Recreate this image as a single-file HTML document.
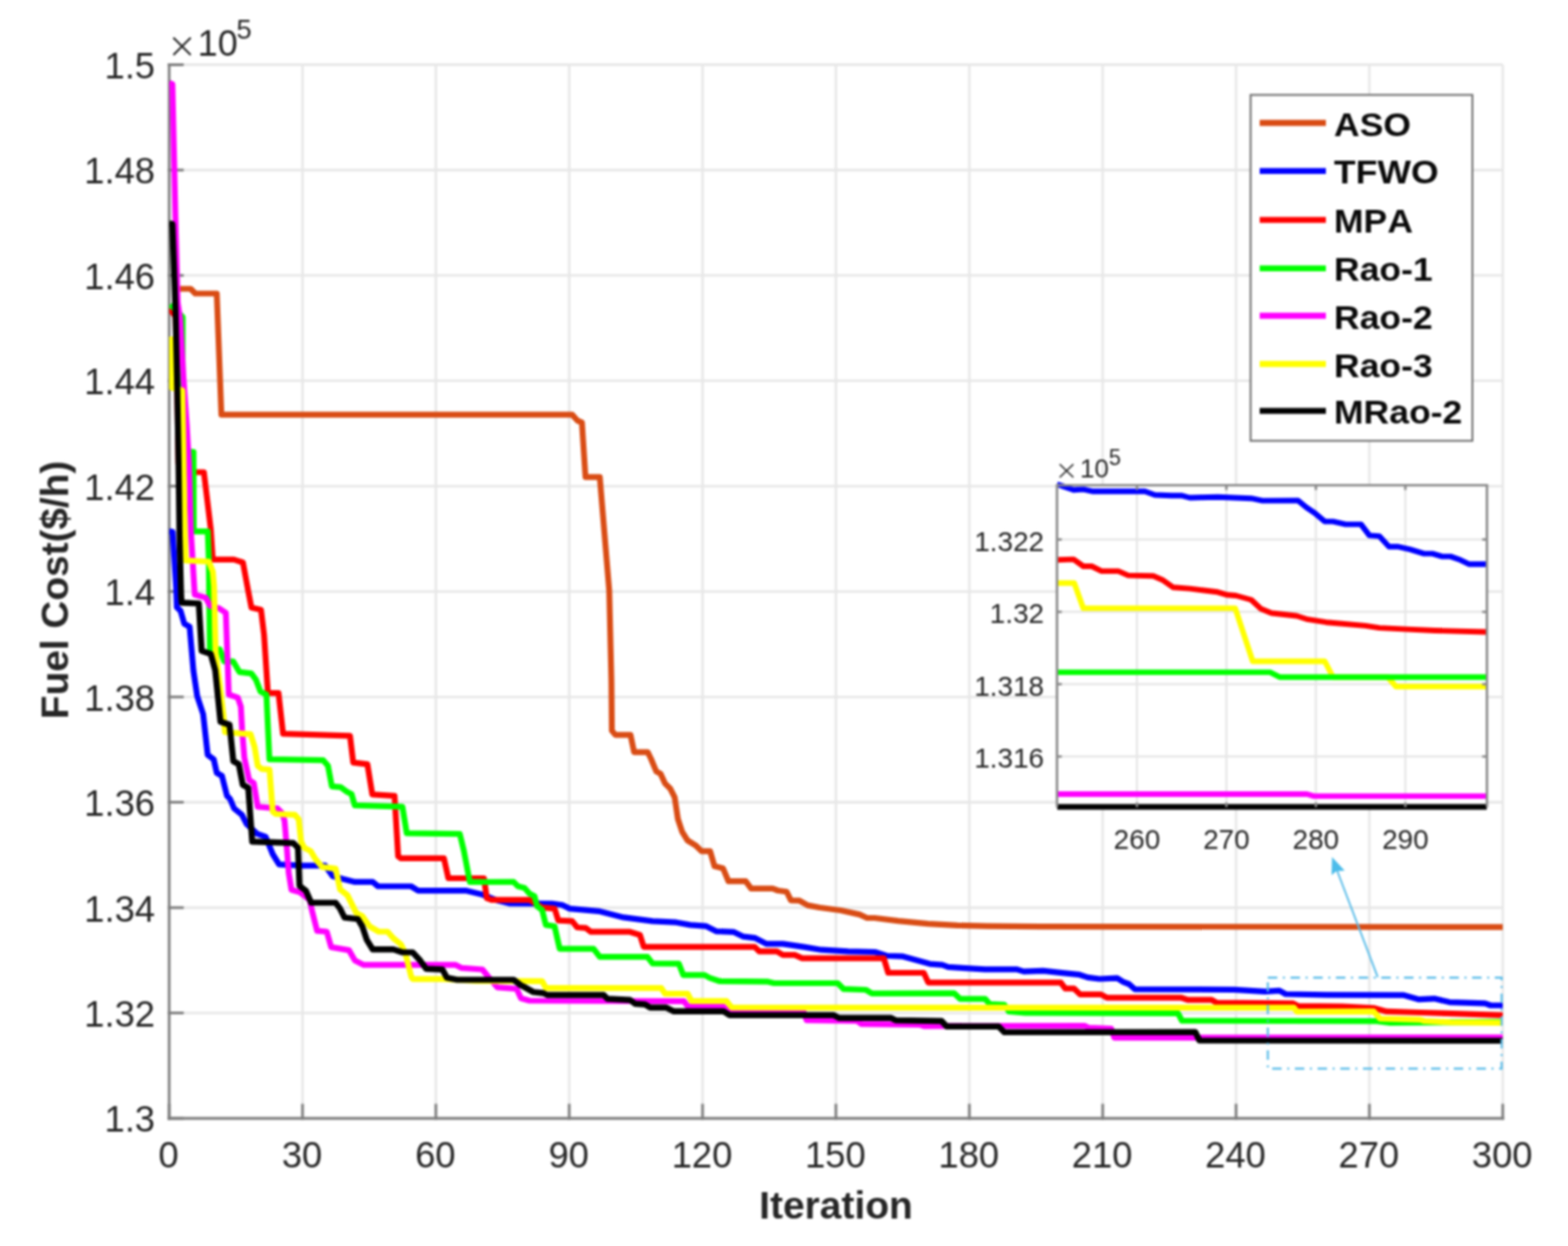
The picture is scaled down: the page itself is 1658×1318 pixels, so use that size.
<!DOCTYPE html><html><head><meta charset="utf-8"><title>Fuel Cost vs Iteration</title>
<style>html,body{margin:0;padding:0;background:#fff;}text{font-kerning:none;}svg{display:block;}#wrap{filter:blur(1px);width:1658px;height:1318px;}</style></head><body>
<div id="wrap">
<svg width="1658" height="1318" viewBox="0 0 1658 1318">
<rect x="0" y="0" width="1658" height="1318" fill="#ffffff"/>
<g stroke="#e7e7e7" stroke-width="2.6"><line x1="319.9" y1="68.4" x2="319.9" y2="1183.0"/><line x1="460.9" y1="68.4" x2="460.9" y2="1183.0"/><line x1="601.9" y1="68.4" x2="601.9" y2="1183.0"/><line x1="742.9" y1="68.4" x2="742.9" y2="1183.0"/><line x1="883.9" y1="68.4" x2="883.9" y2="1183.0"/><line x1="1025.0" y1="68.4" x2="1025.0" y2="1183.0"/><line x1="1166.0" y1="68.4" x2="1166.0" y2="1183.0"/><line x1="1307.0" y1="68.4" x2="1307.0" y2="1183.0"/><line x1="1448.0" y1="68.4" x2="1448.0" y2="1183.0"/><line x1="1589.0" y1="68.4" x2="1589.0" y2="1183.0"/><line x1="178.9" y1="1071.5" x2="1589.0" y2="1071.5"/><line x1="178.9" y1="960.1" x2="1589.0" y2="960.1"/><line x1="178.9" y1="848.6" x2="1589.0" y2="848.6"/><line x1="178.9" y1="737.2" x2="1589.0" y2="737.2"/><line x1="178.9" y1="625.7" x2="1589.0" y2="625.7"/><line x1="178.9" y1="514.2" x2="1589.0" y2="514.2"/><line x1="178.9" y1="402.8" x2="1589.0" y2="402.8"/><line x1="178.9" y1="291.3" x2="1589.0" y2="291.3"/><line x1="178.9" y1="179.9" x2="1589.0" y2="179.9"/><line x1="178.9" y1="68.4" x2="1589.0" y2="68.4"/></g>
<g stroke="#7d7d7d" stroke-width="2.8" stroke-linecap="square" stroke-linejoin="miter"><polyline points="191.9,68.4 178.9,68.4 178.9,1183.0" fill="none"/><line x1="178.9" y1="1183.0" x2="1589.0" y2="1183.0"/><line x1="178.9" y1="1183.0" x2="178.9" y2="1169.0"/><line x1="319.9" y1="1183.0" x2="319.9" y2="1169.0"/><line x1="460.9" y1="1183.0" x2="460.9" y2="1169.0"/><line x1="601.9" y1="1183.0" x2="601.9" y2="1169.0"/><line x1="742.9" y1="1183.0" x2="742.9" y2="1169.0"/><line x1="883.9" y1="1183.0" x2="883.9" y2="1169.0"/><line x1="1025.0" y1="1183.0" x2="1025.0" y2="1169.0"/><line x1="1166.0" y1="1183.0" x2="1166.0" y2="1169.0"/><line x1="1307.0" y1="1183.0" x2="1307.0" y2="1169.0"/><line x1="1448.0" y1="1183.0" x2="1448.0" y2="1169.0"/><line x1="1589.0" y1="1183.0" x2="1589.0" y2="1169.0"/><line x1="178.9" y1="1183.0" x2="192.9" y2="1183.0"/><line x1="178.9" y1="1071.5" x2="192.9" y2="1071.5"/><line x1="178.9" y1="960.1" x2="192.9" y2="960.1"/><line x1="178.9" y1="848.6" x2="192.9" y2="848.6"/><line x1="178.9" y1="737.2" x2="192.9" y2="737.2"/><line x1="178.9" y1="625.7" x2="192.9" y2="625.7"/><line x1="178.9" y1="514.2" x2="192.9" y2="514.2"/><line x1="178.9" y1="402.8" x2="192.9" y2="402.8"/><line x1="178.9" y1="291.3" x2="192.9" y2="291.3"/><line x1="178.9" y1="179.9" x2="192.9" y2="179.9"/><line x1="178.9" y1="68.4" x2="192.9" y2="68.4"/></g>
<g font-family='"Liberation Sans", Arial, sans-serif' font-size="38.5" fill="#262626"><text x="178.3" y="1234.9" text-anchor="middle">0</text><text x="319.3" y="1234.9" text-anchor="middle">30</text><text x="460.3" y="1234.9" text-anchor="middle">60</text><text x="601.3" y="1234.9" text-anchor="middle">90</text><text x="742.3" y="1234.9" text-anchor="middle">120</text><text x="883.3" y="1234.9" text-anchor="middle">150</text><text x="1024.4" y="1234.9" text-anchor="middle">180</text><text x="1165.4" y="1234.9" text-anchor="middle">210</text><text x="1306.4" y="1234.9" text-anchor="middle">240</text><text x="1447.4" y="1234.9" text-anchor="middle">270</text><text x="1588.4" y="1234.9" text-anchor="middle">300</text><text x="164" y="1197.4" text-anchor="end">1.3</text><text x="164" y="1085.9" text-anchor="end">1.32</text><text x="164" y="974.5" text-anchor="end">1.34</text><text x="164" y="863.0" text-anchor="end">1.36</text><text x="164" y="751.6" text-anchor="end">1.38</text><text x="164" y="640.1" text-anchor="end">1.4</text><text x="164" y="528.6" text-anchor="end">1.42</text><text x="164" y="417.2" text-anchor="end">1.44</text><text x="164" y="305.7" text-anchor="end">1.46</text><text x="164" y="194.3" text-anchor="end">1.48</text><text x="164" y="82.8" text-anchor="end">1.5</text></g>
<g font-family='"Liberation Sans", Arial, sans-serif' fill="#262626">
<g stroke="#262626" stroke-width="2.2" stroke-linecap="round"><line x1="184" y1="40.5" x2="201" y2="57.5"/><line x1="201" y1="40.5" x2="184" y2="57.5"/></g>
<text x="209" y="58.5" font-size="38">10</text>
<text x="250" y="40.8" font-size="29">5</text>
</g>
<text transform="translate(884,1289.3) scale(1.03,1)" x="0" y="0" text-anchor="middle" font-family='"Liberation Sans", Arial, sans-serif' font-weight="bold" font-size="40" fill="#262626">Iteration</text>
<text transform="translate(71.7,624) rotate(-90)" text-anchor="middle" font-family='"Liberation Sans", Arial, sans-serif' font-weight="bold" font-size="41" fill="#262626">Fuel Cost($/h)</text>
<defs><clipPath id="pc"><rect x="178.9" y="65.4" width="1413.1" height="1117.6"/></clipPath><clipPath id="ic"><rect x="1117.7" y="505" width="454.6" height="355"/></clipPath></defs>
<g clip-path="url(#pc)">
<polyline points="184.5,305.5 201.6,305.5 206.5,310.5 229.2,310.5 234.1,438.7 605.0,438.7 610.7,445.0 615.3,446.8 619.1,504.6 634.2,504.6 644.2,624.8 646.5,720.0 647.0,772.9 650.7,777.4 666.7,777.4 670.5,795.6 684.9,795.6 688.3,802.5 694.0,816.1 698.5,818.4 703.1,828.6 708.8,834.3 713.4,843.4 716.8,866.2 721.3,879.9 727.0,889.0 736.1,894.7 741.8,900.4 750.9,900.4 755.5,916.3 764.6,918.6 770.3,932.2 788.5,932.2 794.2,939.8 817.0,939.8 822.6,942.0 831.7,943.2 836.3,952.3 845.4,952.7 854.1,957.6 866.7,960.0 889.0,963.0 909.0,967.4 916.8,971.0 924.7,971.0 949.8,974.1 981.1,977.2 1012.5,978.8 1043.9,979.6 1100.0,980.1 1589.0,980.6" fill="none" stroke="#D94C14" stroke-width="6.2" stroke-linejoin="round" stroke-linecap="butt"/>
<polyline points="179.0,562.0 182.5,562.5 186.2,620.0 187.0,642.3 191.0,646.3 194.9,659.8 200.5,663.0 204.5,709.2 208.5,736.3 214.8,755.4 219.6,798.4 226.0,803.2 229.2,817.5 234.7,820.7 240.0,841.8 243.3,845.1 247.5,855.1 255.8,861.8 260.9,871.8 271.7,881.8 280.9,885.1 288.4,903.5 295.1,914.3 318.8,915.7 343.9,915.7 351.7,926.7 362.7,929.8 375.3,932.9 394.1,932.9 399.7,937.5 434.6,937.5 442.2,942.1 492.3,942.1 509.0,945.9 524.1,951.9 539.3,955.7 583.8,955.8 594.4,957.2 602.4,961.1 632.9,963.8 659.4,970.4 690.0,974.4 715.2,975.7 729.8,978.4 746.3,979.6 757.2,985.1 776.1,985.9 785.5,990.6 798.0,992.1 810.6,998.4 827.8,998.4 849.8,1001.6 868.6,1004.7 896.8,1006.3 925.0,1007.0 937.6,1011.0 954.8,1011.7 983.1,1019.6 996.3,1020.6 1002.5,1022.9 1041.7,1025.3 1074.7,1025.3 1082.5,1027.6 1102.9,1026.9 1123.3,1029.2 1140.5,1030.8 1150.0,1033.9 1162.5,1035.5 1181.3,1034.7 1187.6,1038.6 1193.9,1041.0 1200.1,1046.5 1305.1,1046.8 1337.7,1048.8 1352.9,1047.9 1359.4,1051.5 1402.9,1052.4 1484.5,1052.7 1500.5,1057.2 1516.6,1056.3 1532.6,1060.1 1570.4,1061.3 1576.2,1063.5 1589.0,1063.5" fill="none" stroke="#0000FF" stroke-width="6.2" stroke-linejoin="round" stroke-linecap="butt"/>
<polyline points="179.0,326.0 185.7,335.0 187.2,400.0 188.8,490.0 190.5,499.5 215.6,499.5 222.9,560.0 225.0,591.9 247.3,591.9 256.9,595.0 262.2,623.7 265.9,642.8 276.0,645.0 279.2,671.5 283.3,733.1 294.5,733.1 299.3,776.1 370.1,778.4 373.5,806.7 388.5,808.4 393.7,840.4 417.2,841.9 421.0,905.7 424.0,907.9 469.4,907.8 474.1,929.0 511.7,929.0 514.8,950.2 519.6,951.9 559.9,951.8 573.2,959.8 586.4,961.1 590.4,973.7 605.0,974.4 610.3,981.0 619.6,981.7 624.9,985.7 666.1,985.7 676.7,989.0 680.7,1001.6 798.0,1001.6 802.7,1006.3 821.5,1006.3 827.8,1010.2 840.4,1010.2 848.2,1013.7 934.5,1013.5 939.2,1029.0 976.8,1029.0 981.5,1039.3 1121.7,1039.4 1126.4,1045.7 1135.8,1045.7 1142.1,1051.9 1164.1,1051.9 1170.3,1055.3 1248.7,1055.3 1256.3,1057.7 1281.3,1057.7 1286.7,1060.7 1367.0,1061.3 1372.5,1064.0 1419.2,1064.7 1453.5,1066.4 1466.2,1069.9 1501.7,1071.0 1589.0,1073.9" fill="none" stroke="#FF0000" stroke-width="6.2" stroke-linejoin="round" stroke-linecap="butt"/>
<polyline points="180.3,322.0 193.2,335.5 193.0,414.0 194.0,470.0 199.0,477.5 204.6,478.0 204.9,562.1 219.7,562.1 220.8,591.9 221.9,687.4 232.4,686.9 237.1,699.7 246.7,699.7 253.1,710.8 265.8,712.4 270.6,718.8 275.4,731.5 281.7,734.7 284.9,803.2 341.8,804.2 346.8,810.0 350.9,831.8 360.1,832.6 366.8,837.6 371.8,840.1 375.1,851.8 425.5,853.3 430.1,881.4 486.2,882.1 490.5,900.0 496.8,933.0 543.1,932.9 547.8,937.6 554.6,939.2 559.9,945.2 565.2,947.9 567.9,958.5 573.2,962.5 577.2,978.4 586.4,979.7 591.8,1003.6 627.6,1003.6 634.2,1012.2 684.6,1012.2 690.0,1019.2 717.8,1019.4 722.5,1031.4 745.0,1031.4 750.4,1034.4 760.4,1037.8 812.1,1038.4 818.4,1040.0 885.8,1040.0 892.1,1046.2 915.6,1047.0 921.9,1050.9 1008.8,1050.6 1015.1,1056.6 1041.7,1056.6 1046.5,1062.1 1062.1,1062.9 1066.8,1070.0 1084.1,1071.5 1245.6,1071.8 1249.8,1079.7 1455.8,1080.2 1470.0,1081.8 1589.0,1080.8" fill="none" stroke="#00FF00" stroke-width="6.2" stroke-linejoin="round" stroke-linecap="butt"/>
<polyline points="179.0,87.5 182.3,89.0 185.5,230.0 187.9,320.0 190.5,338.0 194.0,400.0 197.5,450.0 199.8,490.0 201.7,560.0 205.9,629.0 217.6,632.2 222.0,640.7 231.8,643.5 238.8,648.3 241.9,734.7 251.5,737.9 254.7,747.4 256.0,771.7 258.4,801.7 263.4,825.1 268.4,828.4 272.5,853.4 293.4,855.1 298.4,860.1 300.9,868.5 303.4,898.5 305.3,923.5 308.2,941.3 317.0,943.8 327.4,951.7 329.8,962.7 335.3,984.7 345.5,985.5 350.2,1001.9 369.0,1005.1 375.3,1016.0 384.7,1020.7 481.9,1020.7 488.2,1023.9 510.1,1025.5 516.4,1033.3 525.8,1044.3 546.2,1045.8 550.9,1056.0 560.0,1058.5 723.2,1059.1 727.2,1064.5 764.4,1064.5 769.7,1069.3 849.8,1070.5 852.9,1079.2 906.2,1080.0 910.9,1083.1 972.1,1083.9 976.8,1085.3 1146.8,1085.0 1151.5,1087.2 1175.0,1088.0 1178.2,1097.6 1589.0,1097.4" fill="none" stroke="#FF00FF" stroke-width="6.2" stroke-linejoin="round" stroke-linecap="butt"/>
<polyline points="181.2,356.0 181.5,410.0 192.8,413.0 194.0,480.0 195.3,560.0 196.4,592.9 220.8,594.0 225.0,604.6 226.3,620.0 228.0,690.0 236.3,757.0 237.9,774.5 265.0,776.7 269.2,790.0 272.5,810.0 276.7,813.4 285.0,814.2 288.4,858.5 291.7,861.0 311.7,861.8 315.9,866.8 318.4,890.2 321.7,896.8 328.4,900.2 333.4,908.5 340.8,917.2 354.9,918.8 359.6,940.8 367.4,947.0 376.8,965.9 383.1,969.0 391.0,980.0 400.4,985.5 409.8,985.5 416.0,992.5 423.9,998.8 428.6,1008.2 434.9,1033.3 436.4,1035.6 469.4,1035.6 503.9,1037.6 573.3,1037.9 577.3,1045.2 699.3,1045.2 703.3,1051.2 727.2,1051.2 731.2,1058.9 768.3,1058.9 773.6,1065.6 1000.0,1065.8 1368.1,1065.8 1371.4,1070.2 1452.4,1069.9 1459.3,1077.5 1501.7,1078.6 1506.0,1080.0 1533.8,1081.3 1589.0,1081.9" fill="none" stroke="#FFFF00" stroke-width="6.2" stroke-linejoin="round" stroke-linecap="butt"/>
<polyline points="179.0,236.5 182.3,237.0 185.5,325.0 187.2,400.0 188.8,490.0 189.8,565.0 191.5,630.0 192.1,637.5 210.2,638.4 213.2,688.5 222.8,691.7 227.6,709.2 233.1,763.4 242.7,766.6 246.7,805.1 252.5,808.4 256.7,830.1 262.5,833.4 266.7,890.2 310.1,891.8 315.1,896.8 316.7,936.9 323.5,942.3 329.0,954.9 354.9,954.9 359.6,961.2 364.3,970.6 378.4,972.1 383.1,980.0 387.8,994.1 394.1,1004.3 416.0,1004.3 425.5,1007.4 436.4,1007.4 444.3,1016.0 450.5,1024.7 467.8,1025.5 472.5,1034.1 483.5,1036.4 543.1,1036.4 550.6,1042.1 554.6,1044.1 563.9,1049.4 574.6,1050.5 578.6,1052.5 638.3,1052.5 642.3,1056.5 666.2,1057.8 671.5,1061.8 682.1,1062.5 687.4,1065.8 704.6,1065.8 712.6,1069.8 765.1,1069.8 771.4,1073.7 881.1,1073.7 887.4,1076.8 942.3,1076.8 947.0,1079.2 995.6,1080.0 1001.0,1085.7 1055.9,1085.7 1062.1,1091.9 1263.9,1091.7 1268.2,1100.6 1589.0,1100.9" fill="none" stroke="#000000" stroke-width="6.4" stroke-linejoin="round" stroke-linecap="butt"/>
</g>
<rect x="1340.6" y="1034.2" width="247.2" height="96.2" fill="none" stroke="#5cbde9" stroke-width="2.2" stroke-dasharray="10,6,2,6"/>
<line x1="1456.8" y1="1033.6" x2="1413.5" y2="920" stroke="#5cbde9" stroke-width="2"/>
<polygon points="1408.5,906.6 1421.9,920.9 1413,921.4 1408,925.8" fill="#4cbcea"/>
<rect x="1322.4" y="100.4" width="234.5" height="365.9" fill="#ffffff" stroke="#6e6e6e" stroke-width="2"/>
<line x1="1332" y1="130.0" x2="1402" y2="130.0" stroke="#D94C14" stroke-width="6.3"/>
<text transform="translate(1410.5,143.6) scale(1.045,1)" font-family='"Liberation Sans", Arial, sans-serif' font-weight="bold" font-size="36" fill="#0a0a0a">ASO</text>
<line x1="1332" y1="180.8" x2="1402" y2="180.8" stroke="#0000FF" stroke-width="6.3"/>
<text transform="translate(1410.5,194.4) scale(1.045,1)" font-family='"Liberation Sans", Arial, sans-serif' font-weight="bold" font-size="36" fill="#0a0a0a">TFWO</text>
<line x1="1332" y1="232.6" x2="1402" y2="232.6" stroke="#FF0000" stroke-width="6.3"/>
<text transform="translate(1410.5,246.2) scale(1.045,1)" font-family='"Liberation Sans", Arial, sans-serif' font-weight="bold" font-size="36" fill="#0a0a0a">MPA</text>
<line x1="1332" y1="283.8" x2="1402" y2="283.8" stroke="#00FF00" stroke-width="6.3"/>
<text transform="translate(1410.5,297.4) scale(1.045,1)" font-family='"Liberation Sans", Arial, sans-serif' font-weight="bold" font-size="36" fill="#0a0a0a">Rao-1</text>
<line x1="1332" y1="334.0" x2="1402" y2="334.0" stroke="#FF00FF" stroke-width="6.3"/>
<text transform="translate(1410.5,347.6) scale(1.045,1)" font-family='"Liberation Sans", Arial, sans-serif' font-weight="bold" font-size="36" fill="#0a0a0a">Rao-2</text>
<line x1="1332" y1="385.0" x2="1402" y2="385.0" stroke="#FFFF00" stroke-width="6.3"/>
<text transform="translate(1410.5,398.6) scale(1.045,1)" font-family='"Liberation Sans", Arial, sans-serif' font-weight="bold" font-size="36" fill="#0a0a0a">Rao-3</text>
<line x1="1332" y1="434.7" x2="1402" y2="434.7" stroke="#000000" stroke-width="6.3"/>
<text transform="translate(1410.5,448.3) scale(1.045,1)" font-family='"Liberation Sans", Arial, sans-serif' font-weight="bold" font-size="36" fill="#0a0a0a">MRao-2</text>
<rect x="1117.7" y="513.3" width="454.6" height="340.5" fill="#ffffff"/>
<g stroke="#e6e6e6" stroke-width="2.2"><line x1="1202.2" y1="513.3" x2="1202.2" y2="853.8"/><line x1="1296.8" y1="513.3" x2="1296.8" y2="853.8"/><line x1="1391.4" y1="513.3" x2="1391.4" y2="853.8"/><line x1="1486.0" y1="513.3" x2="1486.0" y2="853.8"/><line x1="1117.7" y1="570.7" x2="1572.3" y2="570.7"/><line x1="1117.7" y1="647.2" x2="1572.3" y2="647.2"/><line x1="1117.7" y1="723.7" x2="1572.3" y2="723.7"/><line x1="1117.7" y1="800.2" x2="1572.3" y2="800.2"/></g>
<line x1="1117.7" y1="853.8" x2="1572.3" y2="853.8" stroke="#8a8a8a" stroke-width="2.6"/>
<g clip-path="url(#ic)">
<polyline points="1117.7,512.2 1124.8,514.6 1135.2,518.3 1145.5,517.6 1155.9,519.8 1210.6,519.8 1221.0,523.5 1238.7,524.2 1249.1,524.2 1258.0,526.5 1287.6,525.7 1323.1,527.2 1334.9,529.6 1372.6,529.4 1381.4,536.8 1390.3,542.7 1400.7,551.6 1409.5,551.6 1422.9,554.6 1439.1,554.6 1448.0,566.4 1458.4,567.1 1468.7,578.2 1477.6,578.2 1490.9,581.2 1505.7,585.6 1514.6,585.6 1525.0,588.6 1533.8,588.6 1544.2,592.3 1553.1,596.7 1572.3,596.7" fill="none" stroke="#0000FF" stroke-width="5.9" stroke-linejoin="round" stroke-linecap="butt"/>
<polyline points="1117.7,592.3 1135.2,591.6 1145.5,599.0 1154.4,599.0 1164.8,604.1 1182.5,604.1 1192.9,608.6 1219.5,609.3 1229.9,613.8 1240.2,621.2 1258.0,622.6 1287.6,626.3 1297.9,629.3 1306.8,630.0 1323.1,634.5 1333.4,644.1 1344.4,648.5 1371.1,651.5 1382.9,655.2 1402.1,658.2 1443.6,661.9 1458.4,664.1 1488.0,665.6 1517.6,667.0 1572.3,668.5" fill="none" stroke="#FF0000" stroke-width="5.9" stroke-linejoin="round" stroke-linecap="butt"/>
<polyline points="1117.7,616.7 1135.9,616.7 1145.5,643.4 1306.1,643.4 1324.6,699.5 1400.8,699.5 1409.5,716.2 1467.4,716.2 1476.1,726.3 1572.3,726.3" fill="none" stroke="#FFFF00" stroke-width="5.9" stroke-linejoin="round" stroke-linecap="butt"/>
<polyline points="1117.7,711.1 1343.0,711.1 1353.0,716.2 1572.3,716.2" fill="none" stroke="#00FF00" stroke-width="5.9" stroke-linejoin="round" stroke-linecap="butt"/>
<polyline points="1117.7,840.0 1382.0,840.0 1389.2,842.1 1572.3,842.1" fill="none" stroke="#FF00FF" stroke-width="5.9" stroke-linejoin="round" stroke-linecap="butt"/>
<polyline points="1117.7,853.5 1572.3,853.5" fill="none" stroke="#000000" stroke-width="5.9" stroke-linejoin="round" stroke-linecap="butt"/>
</g>
<g stroke="#8a8a8a" stroke-width="2.6"><polyline points="1117.7,853.8 1117.7,513.3 1572.3,513.3 1572.3,853.8" fill="none"/><line x1="1202.2" y1="853.8" x2="1202.2" y2="848.8"/><line x1="1202.2" y1="513.3" x2="1202.2" y2="518.3"/><line x1="1296.8" y1="853.8" x2="1296.8" y2="848.8"/><line x1="1296.8" y1="513.3" x2="1296.8" y2="518.3"/><line x1="1391.4" y1="853.8" x2="1391.4" y2="848.8"/><line x1="1391.4" y1="513.3" x2="1391.4" y2="518.3"/><line x1="1486.0" y1="853.8" x2="1486.0" y2="848.8"/><line x1="1486.0" y1="513.3" x2="1486.0" y2="518.3"/><line x1="1117.7" y1="570.7" x2="1122.7" y2="570.7"/><line x1="1572.3" y1="570.7" x2="1567.3" y2="570.7"/><line x1="1117.7" y1="647.2" x2="1122.7" y2="647.2"/><line x1="1572.3" y1="647.2" x2="1567.3" y2="647.2"/><line x1="1117.7" y1="723.7" x2="1122.7" y2="723.7"/><line x1="1572.3" y1="723.7" x2="1567.3" y2="723.7"/><line x1="1117.7" y1="800.2" x2="1122.7" y2="800.2"/><line x1="1572.3" y1="800.2" x2="1567.3" y2="800.2"/></g>
<g font-family='"Liberation Sans", Arial, sans-serif' font-size="29.5" fill="#262626"><text x="1202.2" y="897.5" text-anchor="middle">260</text><text x="1296.8" y="897.5" text-anchor="middle">270</text><text x="1391.4" y="897.5" text-anchor="middle">280</text><text x="1486.0" y="897.5" text-anchor="middle">290</text><text x="1104" y="582.7" text-anchor="end">1.322</text><text x="1104" y="659.2" text-anchor="end">1.32</text><text x="1104" y="735.7" text-anchor="end">1.318</text><text x="1104" y="812.2" text-anchor="end">1.316</text></g>
<g stroke="#262626" stroke-width="1.7" stroke-linecap="round"><line x1="1121" y1="491.5" x2="1134.5" y2="504.5"/><line x1="1134.5" y1="491.5" x2="1121" y2="504.5"/></g>
<text x="1142" y="505.3" font-family='"Liberation Sans", Arial, sans-serif' font-size="27.5" fill="#262626">10</text>
<text x="1172.5" y="491.8" font-family='"Liberation Sans", Arial, sans-serif' font-size="23" fill="#262626">5</text>
</svg></div></body></html>
